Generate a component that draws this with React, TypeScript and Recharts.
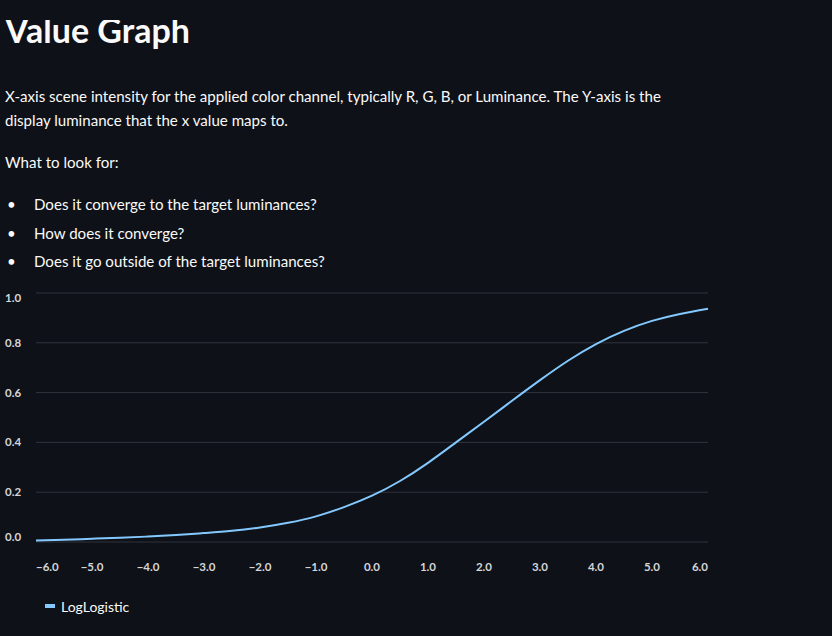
import React from 'react';
import { LineChart, Line, XAxis, YAxis, CartesianGrid } from 'recharts';

// scene intensity (log2 stops) against display luminance
const xValues = [
  -6, -5.5, -5, -4.5, -4, -3.5, -3, -2.5, -2, -1.5, -1, -0.5,
  0, 0.5, 1, 1.5, 2, 2.5, 3, 3.5, 4, 4.5, 5, 5.5, 6,
];
const logLogistic = [
  0.006, 0.009, 0.013, 0.017, 0.022, 0.028, 0.036, 0.045, 0.058, 0.077, 0.103, 0.14,
  0.186, 0.245, 0.318, 0.4, 0.483, 0.567, 0.65, 0.728, 0.795, 0.848, 0.888, 0.916, 0.937,
];
const xTicks = [-6, -5, -4, -3, -2, -1, 0, 1, 2, 3, 4, 5, 6];
const yTicks = [0, 0.2, 0.4, 0.6, 0.8, 1];
const seriesName = 'LogLogistic';

const bullets = [
  'Does it converge to the target luminances?',
  'How does it converge?',
  'Does it go outside of the target luminances?',
];

const BG = '#0e1117';
const TEXT = '#fafafa';
const GRID = '#31333f';
const LINE = '#83c9ff';
const TICK = '#d5d6d9';
const FONT = 'Lato, "Noto Sans", sans-serif';

const fmt = (v: number) => (v < 0 ? '\u2212' + Math.abs(v).toFixed(1) : v.toFixed(1));

const XTick = (props: any) => {
  const { x, y, payload, index } = props;
  const anchor = index === 0 ? 'start' : index === xTicks.length - 1 ? 'end' : 'middle';
  return (
    <text x={x} y={y + 21} textAnchor={anchor} fill={TICK} fontSize={11.5} fontWeight={700} fontFamily={FONT}>
      {fmt(payload.value)}
    </text>
  );
};

const YTick = (props: any) => {
  const { y, payload, index } = props;
  // end labels are pulled inside the plot
  const shift = index === 0 ? -5 : index === yTicks.length - 1 ? 5 : 0;
  return (
    <text x={5} y={y + 4 + shift} textAnchor="start" fill={TICK} fontSize={11.5} fontWeight={700} fontFamily={FONT}>
      {payload.value.toFixed(1)}
    </text>
  );
};

const data = xValues.map((x, i) => ({ x, [seriesName]: logLogistic[i] }));

const abs = (top: number, extra: React.CSSProperties = {}): React.CSSProperties => ({
  position: 'absolute', left: 5, top, fontFamily: FONT, color: TEXT, fontSize: 15.1, lineHeight: '24px', whiteSpace: 'nowrap', ...extra,
});

export default function App() {
  return (
    <div style={{ position: 'fixed', left: 0, top: 0, width: 832, height: 636, background: BG, overflow: 'hidden' }}>
      <div style={abs(6, { fontSize: 34, fontWeight: 700, lineHeight: '48px' })}>Value Graph</div>
      {/* header strip sits over the top of the title */}
      <div style={{ position: 'absolute', left: 0, top: 0, width: 832, height: 20, background: BG }} />

      <div style={abs(84)}>X-axis scene intensity for the applied color channel, typically R, G, B, or Luminance. The Y-axis is the</div>
      <div style={abs(108)}>display luminance that the x value maps to.</div>
      <div style={abs(150)}>What to look for:</div>
      {bullets.map((b, i) => (
        <div key={b} style={abs(192 + i * 28.5, { left: 0 })}>
          <span style={{ position: 'absolute', left: 7 }}>•</span>
          <span style={{ position: 'absolute', left: 34 }}>{b}</span>
        </div>
      ))}

      <div style={{ position: 'absolute', left: 0, top: 270 }}>
        <LineChart width={832} height={310} data={data} margin={{ top: 23, right: 124, bottom: 8, left: 0 }}>
          <CartesianGrid vertical={false} stroke={GRID} />
          <XAxis
            dataKey="x"
            type="number"
            domain={[-6, 6]}
            ticks={xTicks}
            interval={0}
            height={30}
            axisLine={false}
            tickLine={false}
            tick={<XTick />}
          />
          <YAxis
            domain={[0, 1]}
            ticks={yTicks}
            width={36}
            axisLine={false}
            tickLine={false}
            tick={<YTick />}
          />
          <Line
            dataKey={seriesName}
            type="natural"
            stroke={LINE}
            strokeWidth={2}
            dot={false}
            isAnimationActive={false}
          />
        </LineChart>
      </div>

      <div style={{ position: 'absolute', left: 45, top: 596, display: 'flex', alignItems: 'center', height: 20, fontFamily: FONT, color: TEXT, fontSize: 14 }}>
        <span style={{ display: 'inline-block', width: 10, height: 4, background: LINE, marginRight: 6 }} />
        {seriesName}
      </div>
    </div>
  );
}
